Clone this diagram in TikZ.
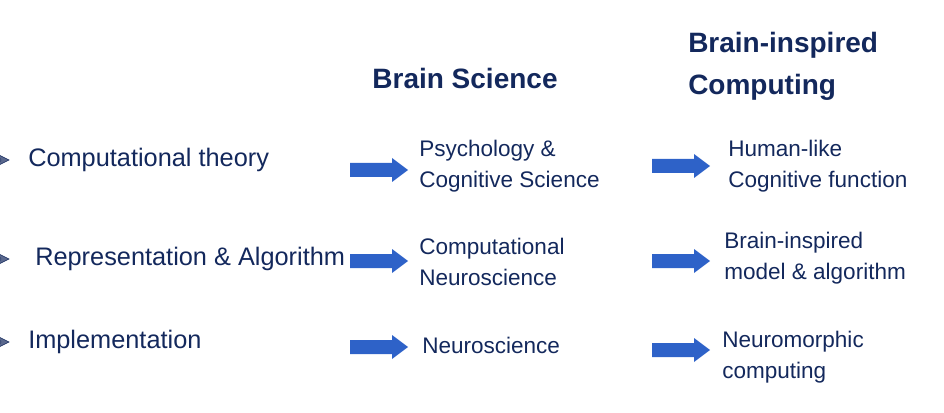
\documentclass[tikz,border=0pt]{standalone}
\usepackage{fontspec}
\setmainfont{Liberation Sans}
\usetikzlibrary{positioning}
\definecolor{navy}{HTML}{13285C}
\definecolor{arrowblue}{HTML}{2E62C8}
\tikzset{
  head/.style={font=\fontsize{21}{31.5}\selectfont\bfseries,text=navy,align=left,inner sep=0pt},
  item/.style={font=\fontsize{19}{24}\selectfont,text=navy,anchor=west,inner sep=0pt},
  entry/.style={font=\fontsize{16.9}{23.2}\selectfont,text=navy,align=left,anchor=west,inner sep=0pt},
  blockarrow/.style={fill=arrowblue,draw=none},
  bullet/.style={fill=navy!70,draw=navy}
}
\newcommand{\blockarrow}[2]{% x of tail, y of centre
  \fill[blockarrow] (#1,#2-7) -- (#1+42,#2-7) -- (#1+42,#2-12) -- (#1+58,#2)
    -- (#1+42,#2+12) -- (#1+42,#2+7) -- (#1,#2+7) -- cycle;}
\begin{document}
\begin{tikzpicture}[x=0.75pt,y=-0.75pt]
\useasboundingbox (0,0) rectangle (944,413);
% headings
\node[head] (bs) at (465,78) {Brain Science};
\node[head,anchor=west] (bic) at (688,66) {Brain-inspired\\Computing};
% levels
\node[item] (ct) at (28,160) {Computational theory};
\node[item] (ra) at (35,259) {Representation \& Algorithm};
\node[item] (im) at (28,342) {Implementation};
\foreach \y in {160,259,342}
  \draw[bullet] (-3,\y-6) -- (9,\y) -- (-3,\y+6) -- (1,\y) -- cycle;
% brain science
\node[entry] (psy) at (419,166) {Psychology \&\\Cognitive Science};
\node[entry] (cn) at (419,262) {Computational\\Neuroscience};
\node[entry] (ns) at (422,345) {Neuroscience};
% brain-inspired computing
\node[entry] (hl) at (728,166) {Human-like\\Cognitive function};
\node[entry] (bm) at (724,258) {Brain-inspired\\model \& algorithm};
\node[entry] (nm) at (722,357) {Neuromorphic\\computing};
% arrows
\blockarrow{350}{170}
\blockarrow{350}{261}
\blockarrow{350}{347}
\blockarrow{652}{166}
\blockarrow{652}{261}
\blockarrow{652}{350}
\end{tikzpicture}
\end{document}
